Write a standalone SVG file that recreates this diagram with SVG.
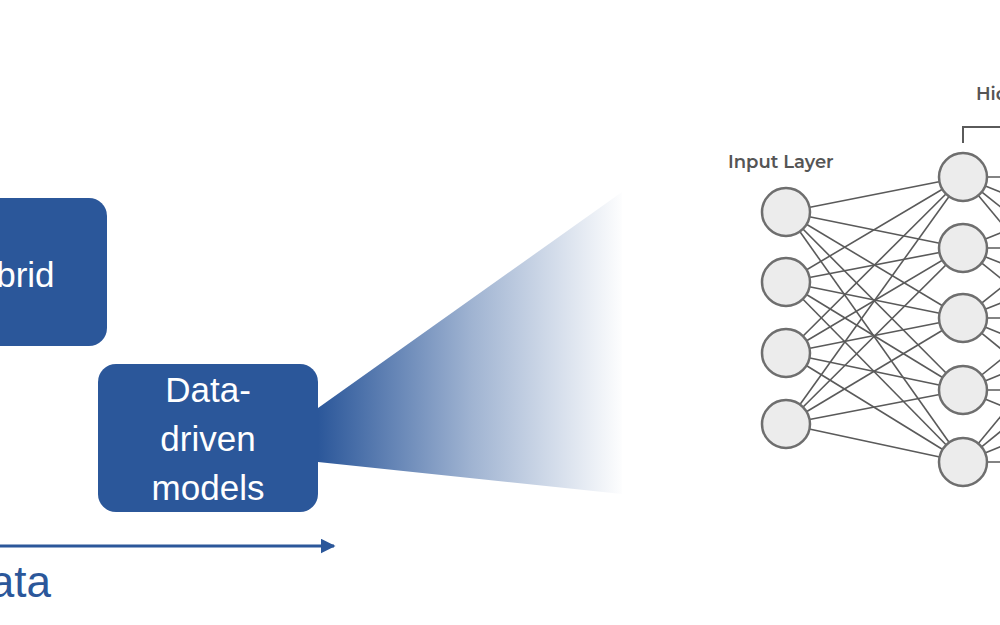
<svg xmlns="http://www.w3.org/2000/svg" width="1000" height="625" viewBox="0 0 1000 625">
<defs>
<linearGradient id="cone" x1="318" y1="0" x2="625" y2="0" gradientUnits="userSpaceOnUse">
<stop offset="0" stop-color="#2b579a"/><stop offset="0.5" stop-color="#2b579a" stop-opacity="0.45"/><stop offset="1" stop-color="#2b579a" stop-opacity="0"/>
</linearGradient>
<marker id="ah" viewBox="0 0 10 10" refX="9" refY="5" markerWidth="5" markerHeight="5" orient="auto"><path d="M0,0L10,5L0,10z" fill="#2b579a"/></marker>
<style>
.box{fill:#2b579a}
.bt{fill:#fff;font-family:"Liberation Sans",Arial,sans-serif;font-size:35px;text-anchor:middle}
.n{fill:#ececec;stroke:#6e6e6e;stroke-width:2.5}
.e{stroke:#5a5a5a;stroke-width:1.6}
.lab{fill:#555;font-family:Montserrat,"Open Sans",sans-serif;font-size:18px;font-weight:600}
</style>
</defs>
<rect width="1000" height="625" fill="#fff"/>
<polygon points="318,408 622,192 622,494 318,462" fill="url(#cone)"/>
<g id="hybrid"><rect class="box" x="-30" y="198" width="137" height="148" rx="18"/><text class="bt" x="4" y="287">Hybrid</text></g>
<g id="datadriven"><rect class="box" x="98" y="364" width="220" height="148" rx="18"/>
<text class="bt" x="208" y="402">Data-</text><text class="bt" x="208" y="451">driven</text><text class="bt" x="208" y="500">models</text></g>
<g id="axis"><line x1="0" y1="546" x2="334" y2="546" stroke="#2b579a" stroke-width="3" marker-end="url(#ah)"/>
<text x="-42" y="597" fill="#2b579a" font-family="'Liberation Sans',Arial,sans-serif" font-size="44">Data</text></g>
<g id="connectors">
<g class="e">
<line x1="786" y1="212" x2="963" y2="177"/><line x1="786" y1="212" x2="963" y2="248"/><line x1="786" y1="212" x2="963" y2="318"/><line x1="786" y1="212" x2="963" y2="390"/><line x1="786" y1="212" x2="963" y2="462"/>
<line x1="786" y1="282" x2="963" y2="177"/><line x1="786" y1="282" x2="963" y2="248"/><line x1="786" y1="282" x2="963" y2="318"/><line x1="786" y1="282" x2="963" y2="390"/><line x1="786" y1="282" x2="963" y2="462"/>
<line x1="786" y1="353" x2="963" y2="177"/><line x1="786" y1="353" x2="963" y2="248"/><line x1="786" y1="353" x2="963" y2="318"/><line x1="786" y1="353" x2="963" y2="390"/><line x1="786" y1="353" x2="963" y2="462"/>
<line x1="786" y1="424" x2="963" y2="177"/><line x1="786" y1="424" x2="963" y2="248"/><line x1="786" y1="424" x2="963" y2="318"/><line x1="786" y1="424" x2="963" y2="390"/><line x1="786" y1="424" x2="963" y2="462"/>
<line x1="963" y1="177" x2="1140" y2="177"/><line x1="963" y1="177" x2="1140" y2="248"/><line x1="963" y1="177" x2="1140" y2="318"/><line x1="963" y1="177" x2="1140" y2="390"/>
<line x1="963" y1="248" x2="1140" y2="177"/><line x1="963" y1="248" x2="1140" y2="248"/><line x1="963" y1="248" x2="1140" y2="318"/><line x1="963" y1="248" x2="1140" y2="390"/>
<line x1="963" y1="318" x2="1140" y2="177"/><line x1="963" y1="318" x2="1140" y2="248"/><line x1="963" y1="318" x2="1140" y2="318"/><line x1="963" y1="318" x2="1140" y2="390"/><line x1="963" y1="318" x2="1140" y2="462"/>
<line x1="963" y1="390" x2="1140" y2="248"/><line x1="963" y1="390" x2="1140" y2="318"/><line x1="963" y1="390" x2="1140" y2="390"/><line x1="963" y1="390" x2="1140" y2="462"/>
<line x1="963" y1="462" x2="1140" y2="248"/><line x1="963" y1="462" x2="1140" y2="318"/><line x1="963" y1="462" x2="1140" y2="390"/><line x1="963" y1="462" x2="1140" y2="462"/>
</g>
<path d="M963,143V127H1010" fill="none" stroke="#5a5a5a" stroke-width="2"/>
</g>
<g id="input-layer">
<text class="lab" x="728" y="168">Input Layer</text>
<circle class="n" cx="786" cy="212" r="24"/><circle class="n" cx="786" cy="282" r="24"/><circle class="n" cx="786" cy="353" r="24"/><circle class="n" cx="786" cy="424" r="24"/>
</g>
<g id="hidden-layer">
<text class="lab" x="976" y="100">Hidden Layers</text>
<circle class="n" cx="963" cy="177" r="24"/><circle class="n" cx="963" cy="248" r="24"/><circle class="n" cx="963" cy="318" r="24"/><circle class="n" cx="963" cy="390" r="24"/><circle class="n" cx="963" cy="462" r="24"/>
</g>
</svg>
